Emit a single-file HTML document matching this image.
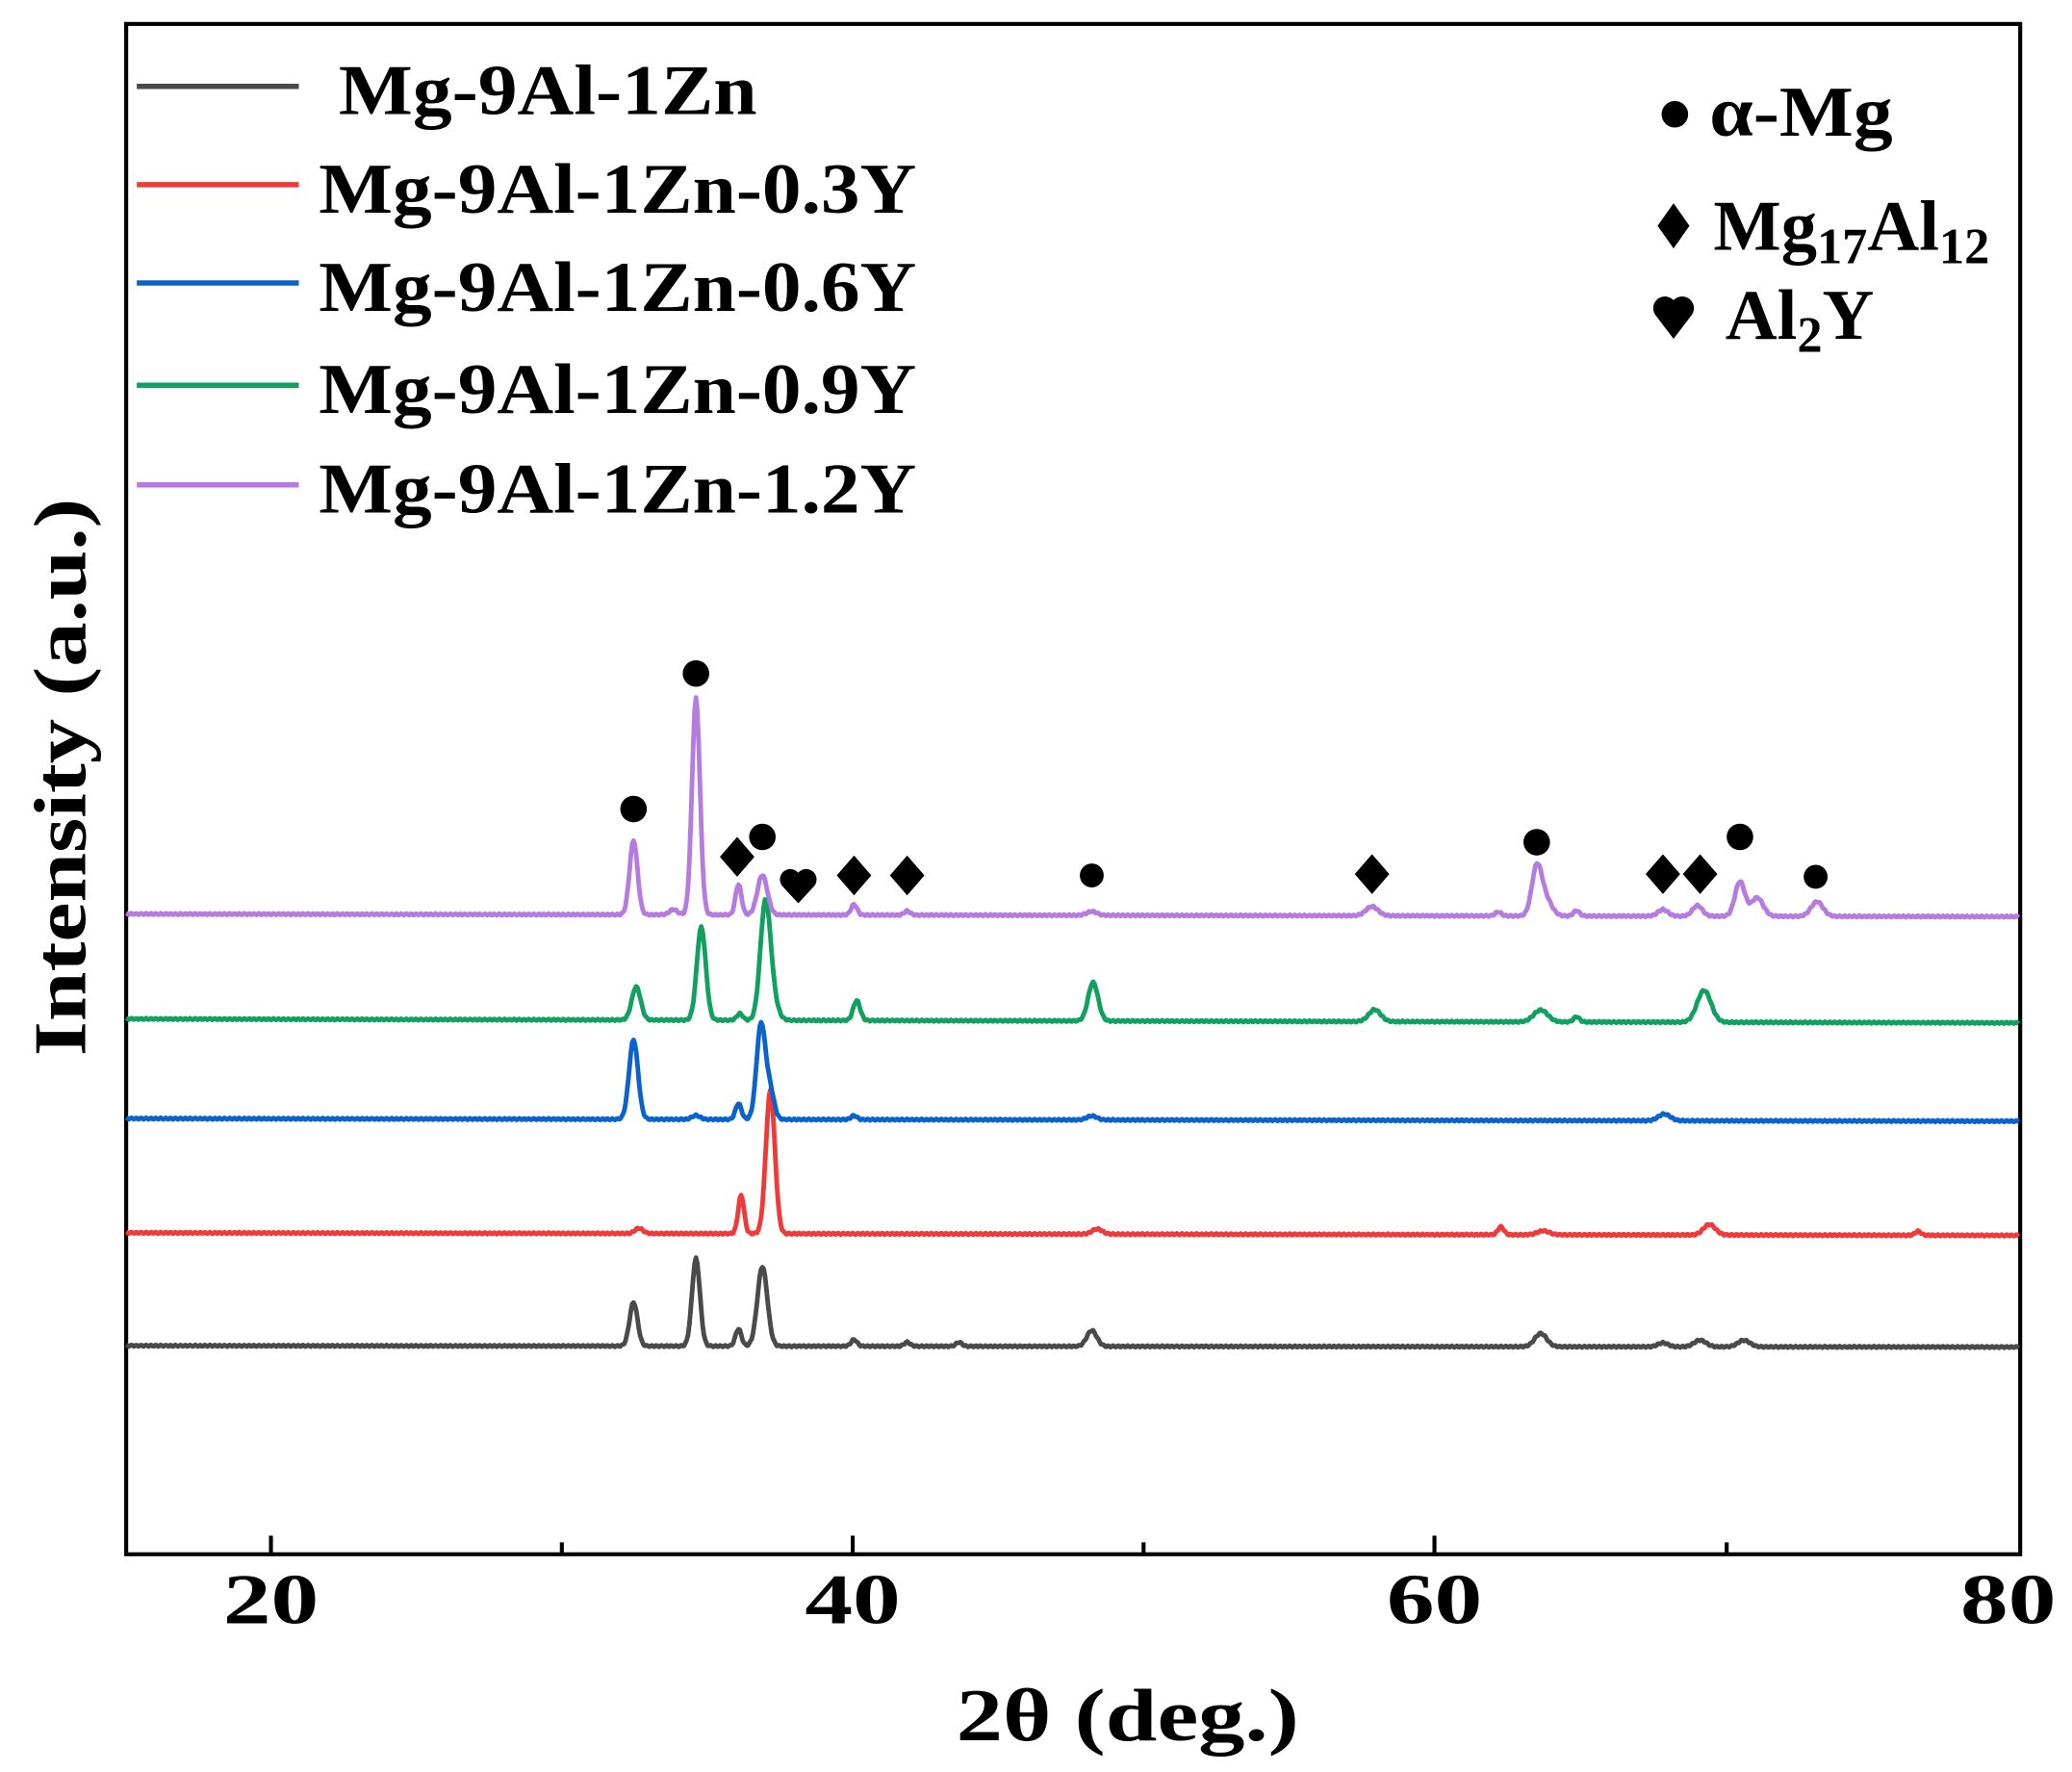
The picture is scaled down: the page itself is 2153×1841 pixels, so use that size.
<!DOCTYPE html>
<html><head><meta charset="utf-8"><style>
html,body{margin:0;padding:0;background:#fff}
svg{display:block}
text{font-family:"Liberation Serif",serif;font-weight:bold;fill:#000}
</style></head><body>
<svg id="s" width="2153" height="1841" viewBox="0 0 1560 1333.9" xmlns="http://www.w3.org/2000/svg">
<rect x="95" y="18" width="1426" height="1152" fill="none" stroke="#000" stroke-width="3"/>
<g stroke="#000" stroke-width="3">
<line x1="204" y1="1170" x2="204" y2="1156"/><line x1="423" y1="1170" x2="423" y2="1161"/>
<line x1="642" y1="1170" x2="642" y2="1156"/><line x1="861" y1="1170" x2="861" y2="1161"/>
<line x1="1080" y1="1170" x2="1080" y2="1156"/><line x1="1300" y1="1170" x2="1300" y2="1161"/>
</g>
<g font-size="54" text-anchor="middle">
<text x="204" y="1222" textLength="72" lengthAdjust="spacingAndGlyphs">20</text>
<text x="642" y="1222" textLength="72" lengthAdjust="spacingAndGlyphs">40</text>
<text x="1080" y="1222" textLength="72" lengthAdjust="spacingAndGlyphs">60</text>
<text x="1512" y="1222" textLength="72" lengthAdjust="spacingAndGlyphs">80</text>
</g>
<text x="849" y="1310" font-size="56" text-anchor="middle" textLength="258" lengthAdjust="spacingAndGlyphs">2θ (deg.)</text>
<text transform="translate(64,585) rotate(-90)" font-size="56" text-anchor="middle" textLength="420" lengthAdjust="spacingAndGlyphs">Intensity (a.u.)</text>
<g id="curves" fill="none" stroke-width="3.5" stroke-linejoin="round"></g>
<g stroke-width="4">
<line x1="103" y1="65" x2="225" y2="65" stroke="#4a4a4a"/>
<line x1="103" y1="139" x2="225" y2="139" stroke="#f03a3a"/>
<line x1="103" y1="213" x2="225" y2="213" stroke="#0a63cc"/>
<line x1="103" y1="290" x2="225" y2="290" stroke="#10a060"/>
<line x1="103" y1="365" x2="225" y2="365" stroke="#b67be0"/>
</g>
<g font-size="54" lengthAdjust="spacingAndGlyphs">
<text x="255" y="86" textLength="315" lengthAdjust="spacingAndGlyphs">Mg-9Al-1Zn</text>
<text x="240" y="160" textLength="450" lengthAdjust="spacingAndGlyphs">Mg-9Al-1Zn-0.3Y</text>
<text x="240" y="234" textLength="450" lengthAdjust="spacingAndGlyphs">Mg-9Al-1Zn-0.6Y</text>
<text x="240" y="311" textLength="450" lengthAdjust="spacingAndGlyphs">Mg-9Al-1Zn-0.9Y</text>
<text x="240" y="386" textLength="450" lengthAdjust="spacingAndGlyphs">Mg-9Al-1Zn-1.2Y</text>
</g>
<g font-size="54">
<circle cx="1261" cy="86" r="10" fill="#000"/>
<text x="1287" y="102" textLength="138" lengthAdjust="spacingAndGlyphs">α-Mg</text>
<path d="M1260,153 L1272,170 L1260,187 L1248,170 Z" fill="#000"/>
<text x="1290" y="188">Mg<tspan font-size="38" dy="10">17</tspan><tspan dy="-10">Al</tspan><tspan font-size="38" dy="10">12</tspan></text>
<path d="M1260,255 L1247,238 A7.5,7.5 0 0 1 1260,226 A7.5,7.5 0 0 1 1273,238 Z" fill="#000"/>
<text x="1299" y="255">Al<tspan font-size="38" dy="10">2</tspan><tspan dy="-10">Y</tspan></text>
</g>
<g fill="#000">
<circle cx="477" cy="609" r="10"/><circle cx="524" cy="507" r="10"/><circle cx="574" cy="630" r="10"/>
<circle cx="822" cy="659" r="9"/><circle cx="1157" cy="634" r="10"/><circle cx="1310" cy="630" r="10"/><circle cx="1367" cy="660" r="9"/>
</g>
<g fill="#000" id="dia"></g>
<path d="M601,680 L589,667 A7,7 0 0 1 601,657 A7,7 0 0 1 613,667 Z" fill="#000"/>
<script>
(function(){
var d=document.getElementById('dia'),ns="http://www.w3.org/2000/svg";
[[555,645],[643,659],[683,659],[1033,658],[1252,658],[1280,658]].forEach(function(p){
var e=document.createElementNS(ns,'path');
e.setAttribute('d','M'+p[0]+','+(p[1]-15)+' L'+(p[0]+13)+','+p[1]+' L'+p[0]+','+(p[1]+15)+' L'+(p[0]-13)+','+p[1]+'Z');
d.appendChild(e);});
var series=[
['#4a4a4a',1013,1014,[[477,33,4],[524,66,4],[556,13,3],[574,60,5],[643,5,3],[683,3,3],[722,3,3],[822,12,5],[1160,10,6],[1252,3,5],[1280,5,6],[1313,5,6]]],
['#f03a3a',928,930,[[481,4,4],[558,29,3],[580,108,4.5],[826,4,5],[1130,6,3],[1162,3,6],[1287,8,6],[1444,3,3]]],
['#0a63cc',842,844,[[477,60,4.5],[524,3,4],[556,12,3],[573,72,4.5],[580,20,4],[643,3,3],[822,3,5],[1253,5,6]]],
['#10a060',767,770,[[479,25,4.5],[528,70,4.5],[557,5,3],[576,77,5],[580,20,6],[645,15,3.5],[823,29,5],[1035,9,6],[1160,9,7],[1187,4,3],[1283,24,7]]],
['#b67be0',688,690,[[477,56,4],[507,4,4],[524,163,4],[556,23,3],[574,30,5],[643,8,3],[683,3,3],[822,3,5],[1033,7,6],[1128,3,3],[1157,36,5],[1164,12,6],[1187,4,3],[1252,5,5],[1278,8,5],[1310,26,5],[1323,14,6],[1368,11,6]]]
];
var g=document.getElementById('curves');
series.forEach(function(s){
var pts=[];
for(var x=95;x<=1520;x+=1){
var y=s[1]+(s[2]-s[1])*(x-95)/1425;
s[3].forEach(function(p){var t=(x-p[0])/p[2];y-=p[1]*Math.exp(-t*t*0.9);});
y+=Math.sin(x*1.7)*0.6;
pts.push(x+','+y.toFixed(1));}
var e=document.createElementNS(ns,'polyline');
e.setAttribute('points',pts.join(' '));e.setAttribute('stroke',s[0]);
g.appendChild(e);});
})();
</script>
</svg>
</body></html>
